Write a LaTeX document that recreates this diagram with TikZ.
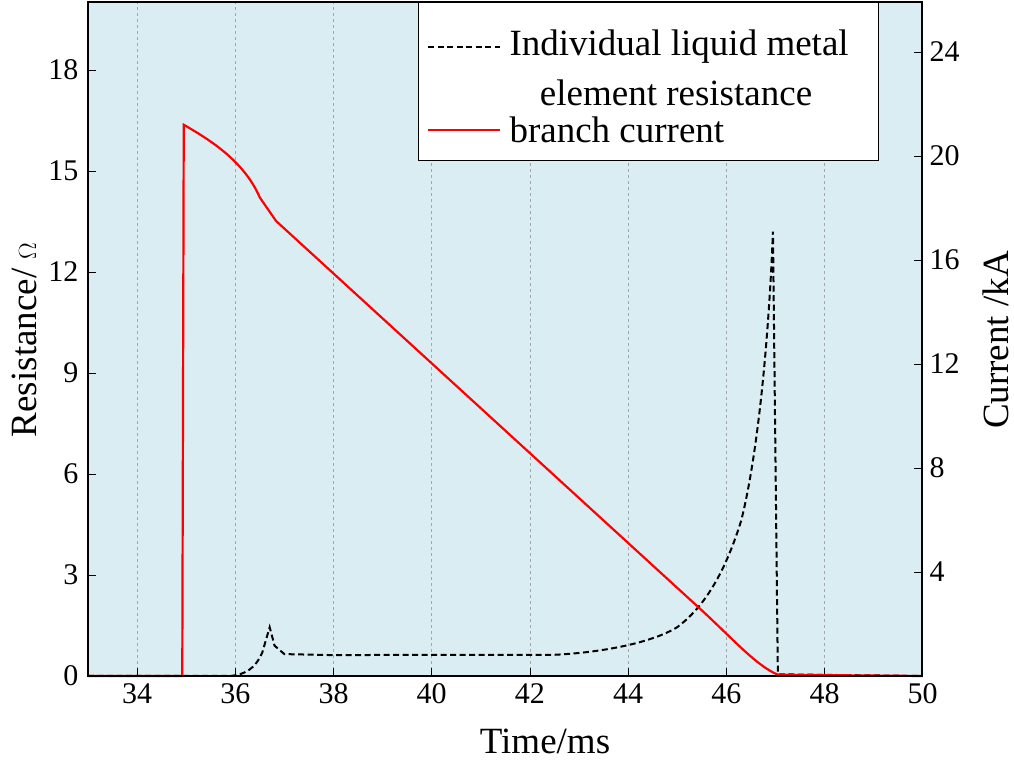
\documentclass[tikz,border=0pt]{standalone}
\usepackage{fontspec}
\setmainfont{Liberation Serif}
\begin{document}
\begin{tikzpicture}[x=1pt,y=1pt,
  tick/.style={font=\fontsize{30}{32}\selectfont},
  ttl/.style={font=\fontsize{37}{39}\selectfont},
  gridl/.style={gray!70,dashed,line width=0.6pt},
  rline/.style={red,line width=2.2pt},
  kline/.style={black,dash pattern=on 6pt off 3.5pt,line width=2pt}]
\useasboundingbox (0,0) rectangle (1014,760);
\fill[fill={rgb,255:red,218;green,237;blue,243}] (88,84) rectangle (922,758);
\begin{scope}[shift={(88,84)}]
\foreach \t in {34,36,...,48} \draw[gridl] ({(\t-33)*49.1},0) -- ({(\t-33)*49.1},674);
\foreach \t in {34,36,...,50} {
  \draw[line width=0.8pt] ({(\t-33)*49.1},0) -- ({(\t-33)*49.1},8);
  \node[tick,anchor=north] (x\t) at ({(\t-33)*49.1},-4) {\t};}
\foreach \r in {0,3,...,18} {
  \draw[line width=0.8pt] (0,{\r*33.67}) -- (8,{\r*33.67});
  \node[tick,anchor=east] (y\r) at (-6,{\r*33.67}) {\r};}
\foreach \c in {4,8,...,24} {
  \draw[line width=0.8pt] (834,{\c*26}) -- (826,{\c*26});
  \node[tick,anchor=west] (c\c) at (838,{\c*26}) {\c};}
\begin{scope}[x=49.1pt,y=33.67pt,shift={(-33,0)}]
\draw[kline] (33,0) -- (35.9,0) .. controls (36.2,0.05) and (36.4,0.2) .. (36.55,0.7)
 -- (36.7,1.45) -- (36.8,0.9) -- (37,0.65) -- (38,0.62) -- (40,0.63) -- (42.5,0.63)
 .. controls (43.5,0.7) and (44.5,1.0) .. (45,1.45)
 .. controls (45.6,2.1) and (46,3.2) .. (46.3,4.6)
 .. controls (46.6,6.3) and (46.85,9.5) .. (46.95,13.2)
 -- (47.05,0.05) -- (50,0);
\end{scope}
\begin{scope}[x=49.1pt,y=26pt,shift={(-33,0)}]
\draw[rline] (33,0) -- (34.92,0) -- (34.95,21.2)
 .. controls (35.6,20.5) and (36.2,19.7) .. (36.5,18.4) -- (36.83,17.5)
 -- (45.4,2.7) .. controls (46.1,1.5) and (46.6,0.4) .. (47.05,0.05) -- (50,0);
\end{scope}
\draw[line width=1.2pt] (0,0) rectangle (834,674);
\end{scope}
\draw[fill=white,line width=0.6pt] (418,600) rectangle (878,758);
\draw[kline] (428,713) -- (500,713);
\draw[rline] (428,630) -- (500,630);
\node[ttl,anchor=west] (l1) at (506,713) {Individual liquid metal};
\node[ttl] (l2) at (676,667) {element resistance};
\node[ttl,anchor=west] (l3) at (506,630) {branch current};
\node[ttl] (xt) at (545,19) {Time/ms};
\node[ttl,rotate=90] (yt) at (24,420) {Resistance/ $\Omega$};
\node[ttl,rotate=90] (ct) at (996,420) {Current /kA};
\end{tikzpicture}
\end{document}
